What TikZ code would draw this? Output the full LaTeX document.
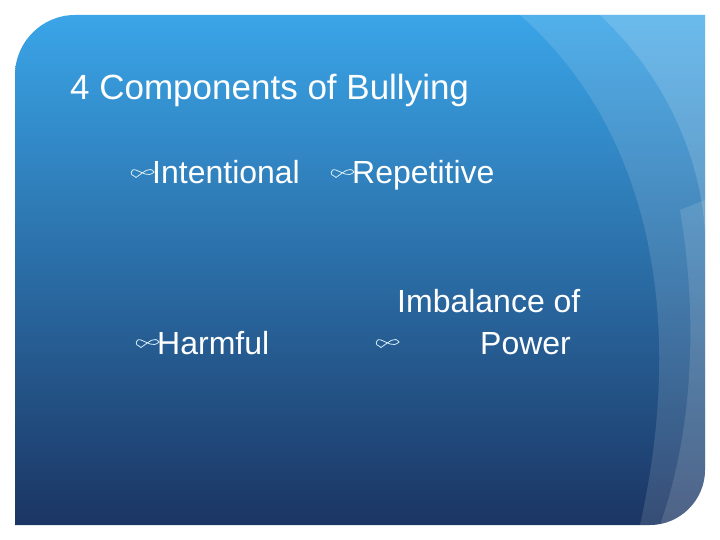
\documentclass[tikz,border=0pt]{standalone}
\usepackage{fontspec}
\setmainfont{Liberation Sans}
\definecolor{topb}{HTML}{3AA5E8}
\definecolor{botb}{HTML}{1B3563}
\tikzset{item/.style={text=white,font=\fontsize{32}{42}\selectfont,anchor=base west,inner sep=0pt,align=left},
 bul/.style={draw=white!80!topb,line width=0.8pt}}
\begin{document}
\begin{tikzpicture}[x=1pt,y=-1pt]
\useasboundingbox (0,0) rectangle (720,540);
\fill[white] (0,0) rectangle (720,540);
\begin{scope}
\path[clip] (15,525) -- (15,75) .. controls (15,42) and (42,15) .. (75,15) -- (705,15) -- (705,470) .. controls (705,500) and (680,525) .. (650,525) -- cycle;
\shade[top color=topb,bottom color=botb] (15,15) rectangle (705,525);
\fill[white,opacity=0.12] (520,15) .. controls (640,120) and (690,300) .. (640,525) -- (705,525) -- (705,15) -- cycle;
\fill[white,opacity=0.15] (600,15) .. controls (690,100) and (705,200) .. (705,240) -- (705,15) -- cycle;
\fill[white,opacity=0.12] (680,210) .. controls (700,330) and (690,440) .. (660,525) -- (705,525) -- (705,200) -- cycle;
\end{scope}
\node[text=white,font=\fontsize{35}{40}\selectfont,anchor=base west,inner sep=0pt] (title) at (70,100) {4 Components of Bullying};
\node[item] (i1) at (152,184) {Intentional};
\node[item] (i2) at (157,354) {Harmful};
\node[item] (i3) at (352,184) {Repetitive};
\node[item] (i4) at (397,354) {Imbalance of\\\hspace*{83pt}Power};
\foreach \n/\x/\y in {b1/134/172,b2/139/342,b3/334/172,b4/379/342}{
 \draw[bul] (\x,\y+4) .. controls (\x-4,\y+4) and (\x-4,\y-4) .. (\x+2,\y-2) .. controls (\x+8,\y) and (\x+14,\y+6) .. (\x+20,\y) .. controls (\x+16,\y-6) and (\x+10,\y) .. (\x+4,\y+4) .. controls (\x+2,\y+6) .. (\x,\y+4);
 \coordinate (\n) at (\x,\y);
}
\end{tikzpicture}
\end{document}
